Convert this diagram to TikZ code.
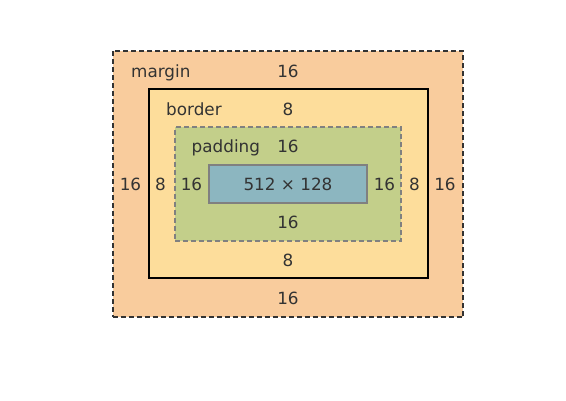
\documentclass[tikz,border=0pt]{standalone}
\usepackage{fontspec}
\setmainfont{DejaVu Sans}
\definecolor{marginfill}{HTML}{F9CC9D}
\definecolor{borderfill}{HTML}{FDDD9B}
\definecolor{paddingfill}{HTML}{C3CF8A}
\definecolor{contentfill}{HTML}{8CB6C0}
\definecolor{textcol}{HTML}{333333}
\definecolor{edgegray}{HTML}{808080}
\begin{document}
\begin{tikzpicture}[x=1pt,y=-1pt]
	\tikzstyle{layer} = [rectangle, inner sep=0pt, outer sep=0pt]
	\tikzstyle{margin_box} = [layer, draw=textcol, line width=2pt, dash pattern=on 5pt off 3pt, fill=marginfill, minimum width=350.5pt, minimum height=266.5pt]
	\tikzstyle{border_box} = [layer, draw=black, line width=2pt, fill=borderfill, minimum width=278.5pt, minimum height=189pt]
	\tikzstyle{padding_box} = [layer, draw=edgegray, line width=2pt, dash pattern=on 5pt off 3pt, fill=paddingfill, minimum width=226pt, minimum height=113.5pt]
	\tikzstyle{content_box} = [layer, draw=edgegray, line width=2pt, fill=contentfill, minimum width=158pt, minimum height=38pt]
	\tikzstyle{lbl} = [inner sep=0pt, text=textcol, font=\fontsize{16.8}{18}\selectfont, anchor=base]
	\def\mid{288}

	\useasboundingbox (0,0) rectangle (566,400);

	% nested boxes
	\node[margin_box] (margin) at (287.75,183.75) {};
	\node[border_box] (border) at (288.25,183.5) {};
	\node[padding_box] (padding) at (288,183.75) {};
	\node[content_box] (content) at (288,184) {};

	% layer names
	\foreach \name/\x/\y in {margin/131/77.3, border/166/115.3, padding/191.5/152.7}
		\node[lbl, anchor=base west] (\name_name) at (\x, \y) {\name};

	% sizes above and below
	\foreach \name/\val/\y in {mt/16/77.3, bt/8/115.3, pt/16/152.7, pb/16/228.5, bb/8/266.5, mb/16/304}
		\node[lbl] (\name) at (\mid, \y) {\val};

	% sizes left and right
	\foreach \name/\val/\x in {ml/16/130.5, bl/8/160.5, pl/16/191.5, pr/16/384.5, br/8/414.5, mr/16/445}
		\node[lbl] (\name) at (\x, 190.7) {\val};

	\node[lbl] (size) at (\mid, 190.7) {512 × 128};
\end{tikzpicture}
\end{document}
